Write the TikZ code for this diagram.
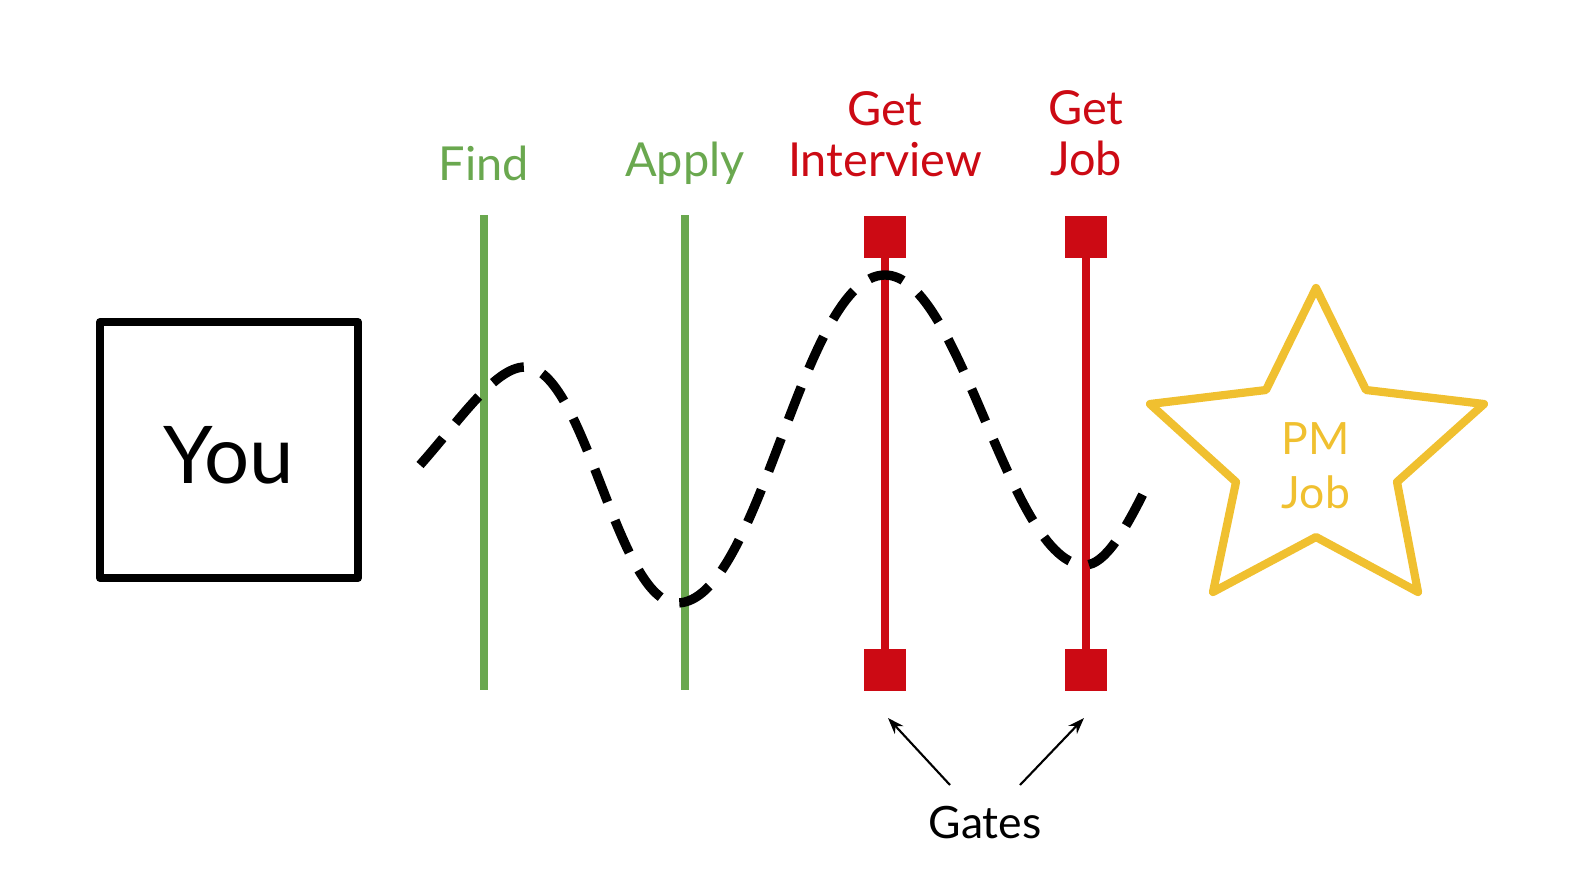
\documentclass[tikz,border=0pt]{standalone}
\usetikzlibrary{arrows.meta}
\usepackage{fontspec}
\setmainfont{Lato}
\definecolor{gr}{RGB}{106,168,79}
\definecolor{rd}{RGB}{204,10,20}
\definecolor{yl}{RGB}{240,192,48}
\begin{document}
\begin{tikzpicture}[x=0.03cm,y=-0.03cm,
  gate/.style={line width=7pt},
  sq/.style={fill=rd,minimum size=1.26cm,inner sep=0,draw=none},
  lab/.style={font=\fontsize{40}{44}\selectfont,align=center}]
\useasboundingbox (0,0) rectangle (1582,886);
\draw[line width=7pt,line join=round] (100,322) rectangle (358,578);
\node[font=\fontsize{68}{70}\selectfont] (you) at (229,455) {You};
\draw[gr,gate] (484,215) -- (484,690);
\draw[gr,gate] (685,215) -- (685,690);
\node[lab,text=gr] (find) at (484,163) {Find};
\node[lab,text=gr] (apply) at (685,163) {Apply};
\node[sq] (s1) at (885,237) {};
\node[sq] (s2) at (885,670) {};
\node[sq] (s3) at (1086,237) {};
\node[sq] (s4) at (1086,670) {};
\draw[rd,gate] (s1) -- (s2);
\draw[rd,gate] (s3) -- (s4);
\node[lab,text=rd] (gi) at (885,134) {Get\\Interview};
\node[lab,text=rd] (gj) at (1086,133) {Get\\Job};
\draw[line width=8pt,dash pattern=on 30pt off 17pt,looseness=0.55]
 (420,465) .. controls (460,420) and (495,367) .. (525,367)
 to[out=0,in=180] (677,603) to[out=0,in=180] (885,275) to[out=0,in=180] (1085,565)
 .. controls (1105,565) and (1125,530) .. (1145,490);
\draw[yl,line width=7pt,line join=round] (1316,288)--(1366,390)--(1484,404)--(1397,482)--(1418,592)--(1316,537)--(1213,592)--(1236,482)--(1150,404)--(1266,390)--cycle;
\node[lab,text=yl,font=\fontsize{38}{46}\selectfont] (pm) at (1316,466) {PM\\Job};
\node[lab,font=\fontsize{38}{40}\selectfont] (gates) at (985,823) {Gates};
\coordinate (a1) at (950,785);
\coordinate (a2) at (1020,785);
\draw[-{Stealth[length=14pt,width=10pt]},line width=1.8pt] (a1) -- (888,718);
\draw[-{Stealth[length=14pt,width=10pt]},line width=1.8pt] (a2) -- (1084,718);
\end{tikzpicture}
\end{document}
